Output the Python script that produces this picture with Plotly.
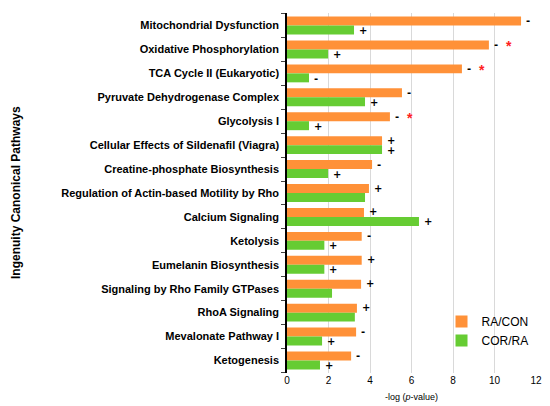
import plotly.graph_objects as go

pathways = ["Mitochondrial Dysfunction","Oxidative Phosphorylation","TCA Cycle II (Eukaryotic)",
 "Pyruvate Dehydrogenase Complex","Glycolysis I","Cellular Effects of Sildenafil (Viagra)",
 "Creatine-phosphate Biosynthesis","Regulation of Actin-based Motility by Rho","Calcium Signaling",
 "Ketolysis","Eumelanin Biosynthesis","Signaling by Rho Family GTPases","RhoA Signaling",
 "Mevalonate Pathway I","Ketogenesis"]
ra_con = [11.28,9.73,8.43,5.54,4.96,4.58,4.10,3.95,3.71,3.60,3.60,3.57,3.37,3.33,3.09]
cor_ra = [3.23,1.98,1.06,3.76,1.06,4.58,1.98,3.76,6.36,1.80,1.80,2.17,3.27,1.69,1.59]
ra_sign = ["-","-","-","-","-","+","-","+","+","-","+","+","+","-","-"]
cor_sign = ["+","+","-","+","+","+","+","","+","+","+","","","+","+"]
star = [False,True,True,False,True,False,False,False,False,False,False,False,False,False,False]

fig = go.Figure()
fig.add_trace(go.Bar(y=pathways, x=ra_con, orientation="h", name="RA/CON",
    marker=dict(color="#FF9138", line=dict(width=0))))
fig.add_trace(go.Bar(y=pathways, x=cor_ra, orientation="h", name="COR/RA",
    marker=dict(color="#66CC33", line=dict(width=0))))
sf = dict(size=10, color="black", family="DejaVu Sans")
for p, v, s in zip(pathways, ra_con, ra_sign):
    if s:
        fig.add_annotation(x=v, y=p, text="<b>"+s+"</b>", showarrow=False, xanchor="left",
                           xshift=3, yshift=5, font=sf)
for p, v, s in zip(pathways, cor_ra, cor_sign):
    if s:
        fig.add_annotation(x=v, y=p, text="<b>"+s+"</b>", showarrow=False, xanchor="left",
                           xshift=3, yshift=-5, font=sf)
for p, v, s in zip(pathways, ra_con, star):
    if s:
        fig.add_annotation(x=v, y=p, text="<b>*</b>", showarrow=False, xshift=20, yshift=3,
                           font=dict(color="#FF2020", size=14, family="Liberation Sans"))

fig.update_layout(
    width=550, height=406, margin=dict(l=279, r=22, t=5, b=41, autoexpand=False),
    plot_bgcolor="white", paper_bgcolor="white",
    barmode="group", bargap=0.25, bargroupgap=0.0,
    font=dict(family="Liberation Sans", size=11, color="black"),
    legend=dict(x=0.99, y=0.05, xanchor="right", yanchor="bottom", font=dict(size=12),
                bgcolor="rgba(0,0,0,0)", tracegroupgap=0),
    showlegend=True,
    xaxis=dict(range=[0,12], dtick=2, showgrid=True, gridcolor="#D9D9D9", zeroline=False,
               tickfont=dict(size=10), showline=False, automargin=False,
               title=dict(text="-log (<i>p</i>-value)", font=dict(size=9), standoff=8)),
    yaxis=dict(autorange="reversed", showline=True, linecolor="black", linewidth=1.5,
               ticks="outside", ticklen=4, tickson="boundaries", ticklabelstandoff=4,
               tickfont=dict(size=11, family="Liberation Sans"), automargin=False,
               tickvals=pathways, ticktext=["<b>"+p+"</b>" for p in pathways]),
)
fig.add_annotation(text="<b>Ingenuity Canonical Pathways</b>", textangle=-90, xref="paper", yref="paper",
                   x=(8-279)/249, xanchor="center", y=0.5, showarrow=False, font=dict(size=12))
fig.write_html("out.html")
